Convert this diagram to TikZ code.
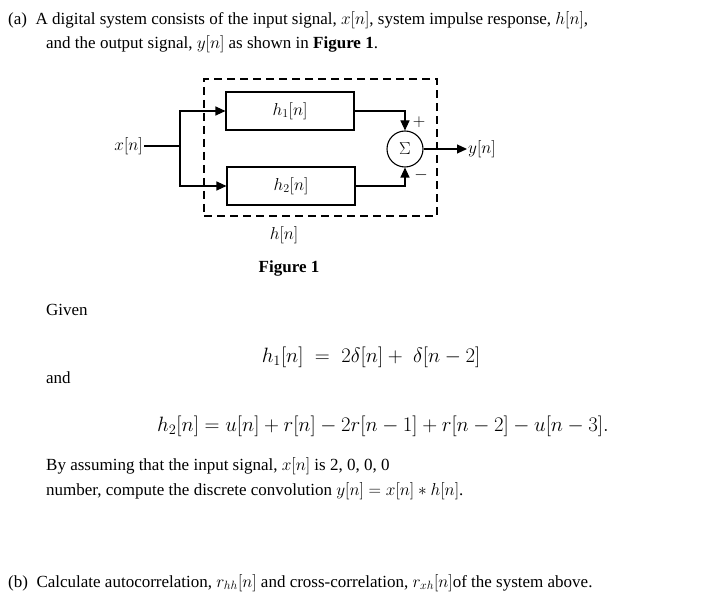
\documentclass[tikz,border=0pt]{standalone}
\usepackage{fontspec}
\setmainfont{Liberation Serif}
\DeclareMathSizes{17}{17}{12}{10}
\DeclareMathSizes{14}{14}{10}{8}
\DeclareMathSizes{21}{21}{15}{11}
\usetikzlibrary{arrows.meta}
\begin{document}
\begin{tikzpicture}[x=1pt,y=-1pt,
  every node/.style={font=\fontsize{17}{20}\selectfont},
  eq/.style={font=\fontsize{21}{24}\selectfont},
  blk/.style={draw,line width=1.1pt,minimum width=128pt,minimum height=38pt,inner sep=0},
  arr/.style={-{Triangle[length=10pt,width=9pt]},line width=1.1pt},
  ln/.style={line width=1.1pt},
  txt/.style={anchor=west,inner sep=0}]
\useasboundingbox (0,0) rectangle (713,601);
\node[txt] (t1) at (8,20) {(a)\ \ A digital system consists of the input signal, $x[n]$, system impulse response, $h[n]$,};
\node[txt] (t2) at (46,44) {and the output signal, $y[n]$ as shown in \textbf{Figure 1}.};
\node[draw,dash pattern=on 8pt off 5pt,line width=1.1pt,minimum width=233pt,minimum height=137pt,inner sep=0] (box) at (320.5,147.5) {};
\node[blk] (h1) at (290,111) {$h_1[n]$};
\node[blk] (h2) at (291,186) {$h_2[n]$};
\node[draw,circle,line width=1.1pt,minimum size=36pt,inner sep=0] (s) at (405,149) {$\Sigma$};
\node[anchor=east,inner sep=1pt] (x) at (144,146) {$x[n]$};
\node[anchor=west,inner sep=1pt] (y) at (467,149) {$y[n]$};
\coordinate (b) at (180,146);
\draw[ln] (x.east) -- (b);
\draw[arr] (b) |- (h1.west);
\draw[arr] (b) |- (h2.west);
\draw[arr] (h1.east) -| (s.north);
\draw[arr] (h2.east) -| (s.south);
\draw[arr] (s.east) -- (y.west);
\node (p) at (419,122) {$+$};
\node (m) at (421,175) {$-$};
\node (hn) at (284,235) {$h[n]$};
\node (f1) at (289,268) {\textbf{Figure 1}};
\node[txt] (g) at (46,310) {Given};
\node[eq] (e1) at (371,357) {$h_1[n]\;=\;2\delta[n]+\;\delta[n-2]$};
\node[txt] (and) at (46,378) {and};
\node[eq] (e2) at (383,426) {$h_2[n]=u[n]+r[n]-2r[n-1]+r[n-2]-u[n-3].$};
\node[txt] (t3) at (46,466) {By assuming that the input signal, $x[n]$ is 2, 0, 0, 0};
\node[txt] (t4) at (46,491) {number, compute the discrete convolution $y[n]=x[n]*h[n]$.};
\node[txt] (t5) at (8,583) {(b)\ \ Calculate autocorrelation, $r_{hh}[n]$ and cross-correlation, $r_{xh}[n]$of the system above.};
\end{tikzpicture}
\end{document}
